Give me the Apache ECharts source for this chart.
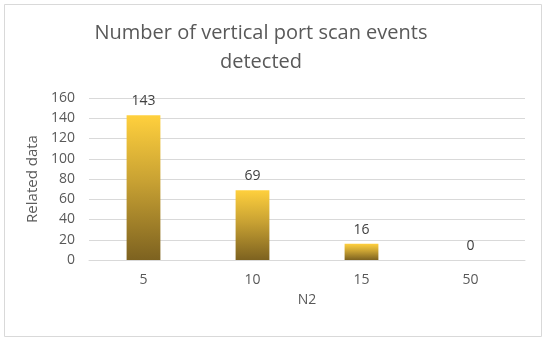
<!DOCTYPE html>
<html><head><meta charset="utf-8">
<script src="https://cdn.jsdelivr.net/npm/echarts@6/dist/echarts.min.js"></script>
<style>html,body{margin:0;padding:0;background:#fff}#c{width:550px;height:342px}</style>
</head><body><div id="c"></div>
<script>
const categories = ['5', '10', '15', '50'];
const values = [143, 69, 16, 0];
const titleText = 'Number of vertical port scan events\ndetected';
const yName = 'Related data';
const xName = 'N2';

const chart = echarts.init(document.getElementById('c'));
const font = 'Open Sans';
chart.setOption({
  animation: false,
  graphic: [{type: 'rect', shape: {x: 4.5, y: 4.5, width: 537, height: 332}, style: {fill: 'none', stroke: '#d9d9d9', lineWidth: 1}, silent: true}],
  title: {text: titleText, left: 256, textAlign: 'center', top: 14,
    textStyle: {fontFamily: font, fontSize: 20, fontWeight: 'normal', color: '#595959', lineHeight: 29}},
  grid: {left: 89, right: 25, top: 98, bottom: 82},
  xAxis: {type: 'category', data: categories, name: xName, nameLocation: 'middle', nameGap: 33,
    nameTextStyle: {fontFamily: font, fontSize: 14, color: '#595959'},
    axisLine: {lineStyle: {color: '#d9d9d9'}}, axisTick: {show: false},
    axisLabel: {fontFamily: font, fontSize: 14, color: '#595959', margin: 13}},
  yAxis: {type: 'value', min: 0, max: 160, interval: 20, name: yName, nameLocation: 'middle', nameGap: 47,
    nameTextStyle: {fontFamily: font, fontSize: 15, color: '#595959'},
    axisLine: {show: false}, axisTick: {show: false},
    splitLine: {lineStyle: {color: '#d9d9d9'}},
    axisLabel: {fontFamily: font, fontSize: 14, color: '#595959', margin: 14}},
  series: [{type: 'bar', data: values, barWidth: '31%',
    itemStyle: {color: new echarts.graphic.LinearGradient(0, 0, 0, 1, [
      {offset: 0, color: '#ffd03d'}, {offset: 0.45, color: '#c9a233'}, {offset: 1, color: '#7d6220'}])},
    label: {show: true, position: 'top', distance: 7, fontFamily: font, fontSize: 14, color: '#404040'}}]
});
</script></body></html>
